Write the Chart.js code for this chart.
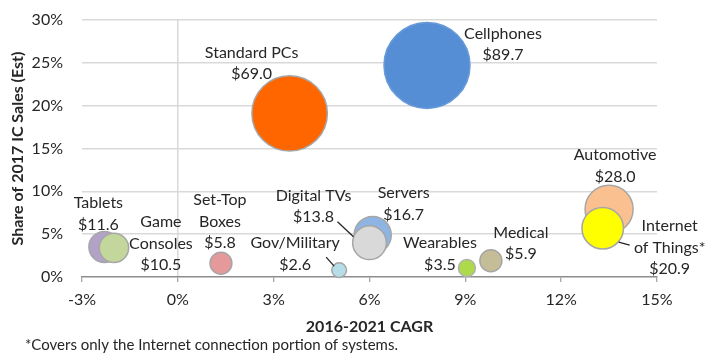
<!DOCTYPE html>
<html>
<head>
<meta charset="utf-8">
<script src="https://cdn.jsdelivr.net/npm/chart.js@4/dist/chart.umd.min.js"></script>
<style>
  html, body { margin: 0; padding: 0; background: #fff; }
  #wrap { width: 712px; height: 360px; }
</style>
</head>
<body>
<div id="wrap"><canvas id="c" width="712" height="360"></canvas></div>
<script>
// ---- data ----
const categories = ['Cellphones', 'Standard PCs', 'Tablets', 'Game Consoles', 'Set-Top Boxes', 'Gov/Military',
                    'Servers', 'Digital TVs', 'Wearables', 'Medical', 'Automotive', 'Internet of Things*'];
const labelLines = [['Cellphones'], ['Standard PCs'], ['Tablets'], ['Game', 'Consoles'], ['Set-Top', 'Boxes'], ['Gov/Military'],
                    ['Servers'], ['Digital TVs'], ['Wearables'], ['Medical'], ['Automotive'], ['Internet', 'of Things*']];
const cagr  = [7.8, 3.5, -2.3, -2.0, 1.35, 5.05, 6.1, 6.0, 9.05, 9.8, 13.5, 13.3];   // 2016-2021 CAGR, %
const share = [24.7, 19.1, 3.5, 3.4, 1.6, 0.8, 4.9, 4.0, 1.05, 1.9, 7.9, 5.7];       // share of 2017 IC sales, %
const sales = [89.7, 69.0, 11.6, 10.5, 5.8, 2.6, 16.7, 13.8, 3.5, 5.9, 28.0, 20.9];  // $B
const xTickValues = [-3, 0, 3, 6, 9, 12, 15];
const yTickValues = [0, 5, 10, 15, 20, 25, 30];
const footnote = '*Covers only the Internet connection portion of systems.';

// ---- styles ----
const colors = ['#558ED5', '#FF6600', '#B3A2C7', '#C3D69B', '#E6999A', '#B7DEE8',
                '#8EB4E3', '#D9D9D9', '#ADDA4A', '#C4BD97', '#FAC090', '#FFFF00'];
const borders = ['#6A9BD8', '#A6A6A6', '#A6A6A6', '#A6A6A6', '#A6A6A6', '#A6A6A6',
                 '#A6A6A6', '#A6A6A6', '#B0B0B0', '#A6A6A6', '#A6A6A6', '#A6A6A6'];
// label offsets relative to bubble centre (first line centre), and leader lines
const labelOffsets = [[76, -32], [-38, -61], [-6, -44], [47, -26], [-1, -63], [-44, -27],
                      [31, -42], [-56, -47], [-27, -25], [30, -28], [6, -54], [67, -2]];
const leaders = { 5: [-13, -13, -5, -4], 7: [-32, -21, -16, -6], 11: [16, 14, 27, 17] };
const FONT = 'Lato, "Open Sans", sans-serif';
const TEXT = '#262626';
const LINE_H = 21.5;
const PLOT_TOP = 20;

const points = categories.map((c, i) => ({ x: cagr[i], y: share[i], r: 4.54 * Math.sqrt(sales[i]) }));

const fixTopPlugin = {
  id: 'fixTop',
  afterLayout(chart) {
    const y = chart.scales.y;
    y.top = PLOT_TOP;
    y.height = y.bottom - PLOT_TOP;
    y.configure();
    chart.chartArea.top = PLOT_TOP;
    chart.chartArea.height = chart.chartArea.bottom - PLOT_TOP;
  }
};

const labelPlugin = {
  id: 'bubbleLabels',
  afterDatasetsDraw(chart) {
    const ctx = chart.ctx;
    const meta = chart.getDatasetMeta(0);
    ctx.save();
    ctx.font = '16px ' + FONT;
    ctx.fillStyle = TEXT;
    ctx.textAlign = 'center';
    ctx.textBaseline = 'middle';
    meta.data.forEach((el, i) => {
      const lines = labelLines[i].concat(['$' + sales[i].toFixed(1)]);
      const [dx, dy] = labelOffsets[i];
      lines.forEach((t, k) => ctx.fillText(t, el.x + dx, el.y + dy + k * LINE_H));
      if (leaders[i]) {
        const l = leaders[i];
        ctx.beginPath();
        ctx.strokeStyle = '#262626';
        ctx.lineWidth = 1.3;
        ctx.moveTo(el.x + l[0], el.y + l[1]);
        ctx.lineTo(el.x + l[2], el.y + l[3]);
        ctx.stroke();
      }
    });
    ctx.textAlign = 'left';
    ctx.font = '15px ' + FONT;
    ctx.fillText(footnote, 25, 345);
    ctx.restore();
  }
};

new Chart(document.getElementById('c'), {
  type: 'bubble',
  data: {
    datasets: [{
      data: points,
      backgroundColor: colors,
      borderColor: borders,
      borderWidth: 1.5,
      hoverRadius: 0
    }]
  },
  options: {
    responsive: false,
    animation: false,
    events: [],
    clip: false,
    layout: { autoPadding: false, padding: { left: 0, right: 55, top: 12, bottom: 0 } },
    plugins: { legend: { display: false }, tooltip: { enabled: false } },
    scales: {
      x: {
        type: 'linear', min: xTickValues[0], max: xTickValues[xTickValues.length - 1],
        afterBuildTicks: s => { s.ticks = xTickValues.map(v => ({ value: v })); },
        afterFit: s => { s.height = 83; },
        ticks: { callback: v => v + '%', color: TEXT, font: { family: FONT, size: 16 }, padding: 8, maxRotation: 0 },
        grid: {
          color: c => (c.tick && c.tick.value === 0) ? '#D9D9D9' : 'rgba(0,0,0,0)',
          lineWidth: 1.5, drawTicks: true, tickLength: 5, tickColor: '#8C8C8C', tickWidth: 1
        },
        border: { display: true, color: '#8C8C8C', width: 1.5 },
        title: { display: true, text: '2016-2021 CAGR', color: TEXT, font: { family: FONT, size: 16, weight: 'bold' }, padding: { top: 0, bottom: 24 } }
      },
      y: {
        type: 'linear', min: yTickValues[0], max: yTickValues[yTickValues.length - 1],
        afterBuildTicks: s => { s.ticks = yTickValues.map(v => ({ value: v })); },
        afterFit: s => { s.width = 82; },
        ticks: { callback: v => v + '%', color: TEXT, font: { family: FONT, size: 16 }, padding: 19 },
        grid: {
          color: c => (c.tick && c.tick.value === 0) ? 'rgba(0,0,0,0)' : '#D9D9D9',
          lineWidth: 1.5, drawTicks: false
        },
        border: { display: false },
        title: { display: true, text: 'Share of 2017 IC Sales (Est)', color: TEXT, font: { family: FONT, size: 16, weight: 'bold' }, padding: { top: 8, bottom: 0 } }
      }
    }
  },
  plugins: [fixTopPlugin, labelPlugin]
});
</script>
</body>
</html>
